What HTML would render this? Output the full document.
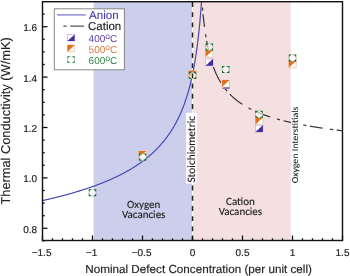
<!DOCTYPE html>
<html><head><meta charset="utf-8"><style>
html,body{margin:0;padding:0;background:#fff;}
svg{display:block;filter:blur(0.3px);}
text{font-family:"Liberation Sans",Arial,sans-serif;text-rendering:geometricPrecision;}
.cal{font-family:Carlito,"Liberation Sans",sans-serif;stroke:#1a1a1a;stroke-width:0.1px;}
</style></head><body>
<svg width="350" height="276" viewBox="0 0 350 276">
<rect x="93.6" y="1.7" width="98.4" height="238.8" fill="#cccfeb"/>
<rect x="193" y="1.7" width="97.8" height="238.8" fill="#f5e0e1"/>
<path d="M42.50,200.59 L42.91,200.50 L43.31,200.41 L43.72,200.32 L44.12,200.23 L44.53,200.13 L44.94,200.04 L45.34,199.95 L45.75,199.86 L46.15,199.77 L46.56,199.67 L46.97,199.58 L47.37,199.48 L47.78,199.39 L48.18,199.30 L48.59,199.20 L49.00,199.11 L49.40,199.01 L49.81,198.92 L50.21,198.82 L50.62,198.72 L51.03,198.63 L51.43,198.53 L51.84,198.43 L52.24,198.34 L52.65,198.24 L53.06,198.14 L53.46,198.04 L53.87,197.94 L54.27,197.84 L54.68,197.74 L55.09,197.64 L55.49,197.54 L55.90,197.44 L56.30,197.34 L56.71,197.24 L57.12,197.14 L57.52,197.04 L57.93,196.93 L58.33,196.83 L58.74,196.73 L59.15,196.62 L59.55,196.52 L59.96,196.42 L60.36,196.31 L60.77,196.21 L61.18,196.10 L61.58,196.00 L61.99,195.89 L62.39,195.78 L62.80,195.68 L63.21,195.57 L63.61,195.46 L64.02,195.35 L64.42,195.25 L64.83,195.14 L65.24,195.03 L65.64,194.92 L66.05,194.81 L66.45,194.70 L66.86,194.59 L67.27,194.48 L67.67,194.36 L68.08,194.25 L68.48,194.14 L68.89,194.03 L69.30,193.91 L69.70,193.80 L70.11,193.68 L70.52,193.57 L70.92,193.46 L71.33,193.34 L71.73,193.22 L72.14,193.11 L72.55,192.99 L72.95,192.87 L73.36,192.76 L73.76,192.64 L74.17,192.52 L74.58,192.40 L74.98,192.28 L75.39,192.16 L75.79,192.04 L76.20,191.92 L76.61,191.80 L77.01,191.67 L77.42,191.55 L77.82,191.43 L78.23,191.30 L78.64,191.18 L79.04,191.06 L79.45,190.93 L79.85,190.81 L80.26,190.68 L80.67,190.55 L81.07,190.43 L81.48,190.30 L81.88,190.17 L82.29,190.04 L82.70,189.91 L83.10,189.78 L83.51,189.65 L83.91,189.52 L84.32,189.39 L84.73,189.26 L85.13,189.12 L85.54,188.99 L85.94,188.86 L86.35,188.72 L86.76,188.59 L87.16,188.45 L87.57,188.32 L87.97,188.18 L88.38,188.04 L88.79,187.91 L89.19,187.77 L89.60,187.63 L90.00,187.49 L90.41,187.35 L90.82,187.21 L91.22,187.07 L91.63,186.92 L92.03,186.78 L92.44,186.64 L92.85,186.49 L93.25,186.35 L93.66,186.20 L94.06,186.06 L94.47,185.91 L94.88,185.76 L95.28,185.61 L95.69,185.46 L96.09,185.32 L96.50,185.16 L96.91,185.01 L97.31,184.86 L97.72,184.71 L98.12,184.56 L98.53,184.40 L98.94,184.25 L99.34,184.09 L99.75,183.94 L100.15,183.78 L100.56,183.62 L100.97,183.46 L101.37,183.30 L101.78,183.14 L102.18,182.98 L102.59,182.82 L103.00,182.66 L103.40,182.50 L103.81,182.33 L104.21,182.17 L104.62,182.00 L105.03,181.83 L105.43,181.67 L105.84,181.50 L106.24,181.33 L106.65,181.16 L107.06,180.99 L107.46,180.82 L107.87,180.64 L108.27,180.47 L108.68,180.30 L109.09,180.12 L109.49,179.94 L109.90,179.77 L110.30,179.59 L110.71,179.41 L111.12,179.23 L111.52,179.05 L111.93,178.87 L112.33,178.68 L112.74,178.50 L113.15,178.31 L113.55,178.13 L113.96,177.94 L114.36,177.75 L114.77,177.56 L115.18,177.37 L115.58,177.18 L115.99,176.99 L116.39,176.79 L116.80,176.60 L117.21,176.40 L117.61,176.21 L118.02,176.01 L118.42,175.81 L118.83,175.61 L119.24,175.41 L119.64,175.20 L120.05,175.00 L120.45,174.79 L120.86,174.59 L121.27,174.38 L121.67,174.17 L122.08,173.96 L122.48,173.75 L122.89,173.53 L123.30,173.32 L123.70,173.10 L124.11,172.89 L124.52,172.67 L124.92,172.45 L125.33,172.23 L125.73,172.00 L126.14,171.78 L126.55,171.55 L126.95,171.33 L127.36,171.10 L127.76,170.87 L128.17,170.64 L128.58,170.40 L128.98,170.17 L129.39,169.93 L129.79,169.70 L130.20,169.46 L130.61,169.22 L131.01,168.97 L131.42,168.73 L131.82,168.48 L132.23,168.24 L132.64,167.99 L133.04,167.74 L133.45,167.48 L133.85,167.23 L134.26,166.97 L134.67,166.71 L135.07,166.45 L135.48,166.19 L135.88,165.93 L136.29,165.66 L136.70,165.39 L137.10,165.12 L137.51,164.85 L137.91,164.58 L138.32,164.30 L138.73,164.03 L139.13,163.75 L139.54,163.46 L139.94,163.18 L140.35,162.89 L140.76,162.60 L141.16,162.31 L141.57,162.02 L141.97,161.72 L142.38,161.43 L142.79,161.12 L143.19,160.82 L143.60,160.52 L144.00,160.21 L144.41,159.90 L144.82,159.59 L145.22,159.27 L145.63,158.95 L146.03,158.63 L146.44,158.31 L146.85,157.98 L147.25,157.65 L147.66,157.32 L148.06,156.98 L148.47,156.65 L148.88,156.30 L149.28,155.96 L149.69,155.61 L150.09,155.26 L150.50,154.91 L150.91,154.55 L151.31,154.19 L151.72,153.83 L152.12,153.46 L152.53,153.09 L152.94,152.72 L153.34,152.34 L153.75,151.96 L154.15,151.58 L154.56,151.19 L154.97,150.80 L155.37,150.40 L155.78,150.00 L156.18,149.59 L156.59,149.19 L157.00,148.77 L157.40,148.36 L157.81,147.94 L158.21,147.51 L158.62,147.08 L159.03,146.64 L159.43,146.21 L159.84,145.76 L160.24,145.31 L160.65,144.86 L161.06,144.40 L161.46,143.93 L161.87,143.47 L162.27,142.99 L162.68,142.51 L163.09,142.02 L163.49,141.53 L163.90,141.03 L164.30,140.53 L164.71,140.02 L165.12,139.51 L165.52,138.98 L165.93,138.45 L166.33,137.92 L166.74,137.38 L167.15,136.83 L167.55,136.27 L167.96,135.71 L168.36,135.14 L168.77,134.56 L169.18,133.97 L169.58,133.38 L169.99,132.78 L170.39,132.16 L170.80,131.54 L171.21,130.92 L171.61,130.28 L172.02,129.63 L172.42,128.98 L172.83,128.31 L173.24,127.63 L173.64,126.95 L174.05,126.25 L174.45,125.54 L174.86,124.82 L175.27,124.09 L175.67,123.35 L176.08,122.60 L176.48,121.83 L176.89,121.05 L177.30,120.26 L177.70,119.45 L178.11,118.63 L178.52,117.80 L178.92,116.95 L179.33,116.08 L179.73,115.20 L180.14,114.30 L180.55,113.38 L180.95,112.45 L181.36,111.50 L181.76,110.53 L182.17,109.54 L182.58,108.53 L182.98,107.50 L183.39,106.44 L183.79,105.37 L184.20,104.27 L184.61,103.14 L185.01,101.99 L185.42,100.82 L185.82,99.61 L186.23,98.38 L186.64,97.12 L187.04,95.82 L187.45,94.50 L187.85,93.13 L188.26,91.74 L188.67,90.30 L189.07,88.83 L189.48,87.31 L189.88,85.75 L190.29,84.15 L190.70,82.49 L191.10,80.79 L191.51,79.03 L191.91,77.21 L192.32,75.34 L192.73,73.40 L193.13,71.39 L193.54,69.31 L193.94,67.15 L194.35,64.92 L194.76,62.59 L195.16,60.17 L195.57,57.65 L195.97,55.02 L196.38,52.27 L196.79,49.40 L197.19,46.38 L197.60,43.22 L198.00,39.90 L198.41,36.39 L198.82,32.69 L199.22,28.78 L199.63,24.62 L200.03,20.19 L200.44,15.46 L200.85,10.39 L201.25,4.93 L201.47,1.70" fill="none" stroke="#4848b4" stroke-width="1.2"/>
<path d="M201.94,1.70 L202.11,3.85 L202.35,6.76 L202.59,9.51 L202.84,12.13 L203.08,14.61 L203.32,16.98 L203.57,19.24 L203.81,21.39 L204.06,23.46 L204.30,25.43 L204.54,27.33 L204.79,29.15 L205.03,30.89 L205.27,32.58 L205.52,34.20 L205.76,35.76 L206.01,37.26 L206.25,38.72 L206.49,40.12 L206.74,41.48 L206.98,42.80 L207.22,44.07 L207.47,45.31 L207.71,46.51 L207.96,47.67 L208.20,48.80 L208.44,49.89 L208.69,50.96 L208.93,52.00 L209.17,53.00 L209.42,53.99 L209.66,54.94 L209.91,55.87 L210.15,56.78 L210.39,57.67 L210.64,58.53 L210.88,59.38 L211.12,60.20 L211.37,61.01 L211.61,61.79 L211.86,62.56 L212.10,63.31 L212.34,64.05 L212.59,64.77 L212.83,65.47 L213.07,66.16 L213.32,66.84 L213.56,67.50 L213.81,68.15 L214.05,68.78 L214.29,69.41 L214.54,70.02 L214.78,70.62 L215.02,71.21 L215.27,71.78 L215.51,72.35 L215.76,72.91 L216.00,73.45 L216.24,73.99 L216.49,74.52 L216.73,75.04 L216.97,75.55 L217.22,76.05 L217.46,76.54 L217.71,77.03 L217.95,77.50 L218.19,77.97" fill="none" stroke="#333" stroke-width="1.2" stroke-dasharray="12.8 7.4 3.2 3.6" stroke-dashoffset="14.45"/><path d="M218.19,77.97 L218.44,78.43 L218.68,78.89 L218.92,79.33 L219.17,79.77 L219.41,80.21 L219.66,80.63 L219.90,81.05 L220.14,81.47 L220.39,81.88 L220.63,82.28 L220.87,82.68 L221.12,83.07 L221.36,83.45 L221.61,83.83 L221.85,84.21 L222.09,84.57 L222.34,84.94 L222.58,85.30 L222.82,85.65 L223.07,86.00 L223.31,86.35 L223.56,86.69 L223.80,87.03 L224.04,87.36 L224.29,87.69 L224.53,88.01 L224.77,88.33 L225.02,88.65 L225.26,88.96 L225.51,89.26 L225.75,89.57 L225.99,89.87 L226.24,90.17 L226.48,90.46 L226.72,90.75 L226.97,91.04 L227.21,91.32 L227.45,91.60 L227.70,91.88 L227.94,92.15 L228.19,92.42 L228.43,92.69 L228.67,92.96 L228.92,93.22 L229.16,93.48 L229.40,93.73 L229.65,93.99 L229.89,94.24 L230.14,94.49 L230.38,94.73 L230.62,94.98 L230.87,95.22 L231.11,95.46 L231.35,95.69 L231.60,95.92 L231.84,96.16 L232.09,96.38 L232.33,96.61 L232.57,96.84 L232.82,97.06 L233.06,97.28 L233.30,97.49 L233.55,97.71 L233.79,97.92 L234.04,98.14 L234.28,98.35 L234.52,98.55 L234.77,98.76 L235.01,98.96 L235.25,99.16 L235.50,99.36 L235.74,99.56 L235.99,99.76 L236.23,99.95 L236.47,100.15 L236.72,100.34 L236.96,100.53 L237.20,100.72 L237.45,100.90 L237.69,101.09 L237.94,101.27 L238.18,101.45 L238.42,101.63 L238.67,101.81 L238.91,101.99 L239.15,102.16 L239.40,102.34 L239.64,102.51 L239.89,102.68 L240.13,102.85 L240.37,103.02 L240.62,103.19 L240.86,103.35 L241.10,103.52 L241.35,103.68 L241.59,103.84 L241.84,104.00 L242.08,104.16 L242.32,104.32 L242.57,104.48 L242.81,104.63 L243.05,104.79 L243.30,104.94 L243.54,105.09 L243.79,105.24 L244.03,105.39 L244.27,105.54 L244.52,105.69 L244.76,105.84 L245.00,105.98 L245.25,106.13 L245.49,106.27 L245.74,106.41 L245.98,106.55 L246.22,106.69 L246.47,106.83 L246.71,106.97 L246.95,107.11 L247.20,107.24 L247.44,107.38 L247.69,107.51 L247.93,107.65 L248.17,107.78 L248.42,107.91 L248.66,108.04 L248.90,108.17 L249.15,108.30 L249.39,108.43 L249.64,108.56 L249.88,108.68 L250.12,108.81 L250.37,108.93 L250.61,109.06 L250.85,109.18 L251.10,109.30 L251.34,109.42 L251.59,109.54 L251.83,109.66 L252.07,109.78 L252.32,109.90 L252.56,110.02 L252.80,110.13 L253.05,110.25 L253.29,110.37 L253.54,110.48 L253.78,110.59 L254.02,110.71 L254.27,110.82 L254.51,110.93 L254.75,111.04 L255.00,111.15 L255.24,111.26 L255.48,111.37 L255.73,111.48 L255.97,111.59 L256.22,111.70 L256.46,111.80 L256.70,111.91 L256.95,112.01 L257.19,112.12 L257.43,112.22 L257.68,112.33 L257.92,112.43 L258.17,112.53 L258.41,112.63 L258.65,112.73 L258.90,112.83 L259.14,112.93 L259.38,113.03 L259.63,113.13 L259.87,113.23 L260.12,113.33 L260.36,113.42 L260.60,113.52 L260.85,113.62 L261.09,113.71 L261.33,113.81 L261.58,113.90 L261.82,114.00 L262.07,114.09 L262.31,114.18 L262.55,114.27 L262.80,114.37 L263.04,114.46 L263.28,114.55 L263.53,114.64 L263.77,114.73 L264.02,114.82 L264.26,114.91 L264.50,114.99 L264.75,115.08 L264.99,115.17 L265.23,115.26 L265.48,115.34 L265.72,115.43 L265.97,115.52 L266.21,115.60 L266.45,115.69 L266.70,115.77 L266.94,115.85 L267.18,115.94 L267.43,116.02 L267.67,116.10 L267.92,116.19 L268.16,116.27 L268.40,116.35 L268.65,116.43 L268.89,116.51 L269.13,116.59 L269.38,116.67 L269.62,116.75 L269.87,116.83 L270.11,116.91 L270.35,116.99 L270.60,117.07 L270.84,117.14 L271.08,117.22 L271.33,117.30 L271.57,117.37 L271.82,117.45 L272.06,117.53 L272.30,117.60 L272.55,117.68 L272.79,117.75 L273.03,117.82 L273.28,117.90 L273.52,117.97 L273.77,118.05 L274.01,118.12 L274.25,118.19 L274.50,118.26 L274.74,118.34 L274.98,118.41 L275.23,118.48" fill="none" stroke="#333" stroke-width="1.2" stroke-dasharray="16 7.2 3.2 4.2" stroke-dashoffset="10.48"/><path d="M275.23,118.48 L275.47,118.55 L275.72,118.62 L275.96,118.69 L276.20,118.76 L276.45,118.83 L276.69,118.90 L276.93,118.97 L277.18,119.04 L277.42,119.11 L277.67,119.17 L277.91,119.24 L278.15,119.31 L278.40,119.38 L278.64,119.44 L278.88,119.51 L279.13,119.58 L279.37,119.64 L279.62,119.71 L279.86,119.77 L280.10,119.84 L280.35,119.90 L280.59,119.97 L280.83,120.03 L281.08,120.10 L281.32,120.16 L281.57,120.23 L281.81,120.29 L282.05,120.35 L282.30,120.41 L282.54,120.48 L282.78,120.54 L283.03,120.60 L283.27,120.66 L283.52,120.72 L283.76,120.79 L284.00,120.85 L284.25,120.91 L284.49,120.97 L284.73,121.03 L284.98,121.09 L285.22,121.15 L285.46,121.21 L285.71,121.27 L285.95,121.33 L286.20,121.38 L286.44,121.44 L286.68,121.50 L286.93,121.56 L287.17,121.62 L287.41,121.68 L287.66,121.73 L287.90,121.79 L288.15,121.85 L288.39,121.90 L288.63,121.96 L288.88,122.02 L289.12,122.07 L289.36,122.13 L289.61,122.18 L289.85,122.24 L290.10,122.29 L290.34,122.35 L290.58,122.40 L290.83,122.46 L291.07,122.51 L291.31,122.57 L291.56,122.62 L291.80,122.68 L292.05,122.73 L292.29,122.78 L292.53,122.84 L292.78,122.89 L293.02,122.94 L293.26,122.99 L293.51,123.05 L293.75,123.10 L294.00,123.15 L294.24,123.20 L294.48,123.25 L294.73,123.30 L294.97,123.36 L295.21,123.41 L295.46,123.46 L295.70,123.51 L295.95,123.56 L296.19,123.61 L296.43,123.66 L296.68,123.71 L296.92,123.76 L297.16,123.81 L297.41,123.86 L297.65,123.91 L297.90,123.96 L298.14,124.01 L298.38,124.05 L298.63,124.10 L298.87,124.15 L299.11,124.20 L299.36,124.25 L299.60,124.30 L299.85,124.34 L300.09,124.39 L300.33,124.44 L300.58,124.49 L300.82,124.53 L301.06,124.58 L301.31,124.63 L301.55,124.67 L301.80,124.72 L302.04,124.76 L302.28,124.81 L302.53,124.86 L302.77,124.90 L303.01,124.95 L303.26,124.99 L303.50,125.04 L303.75,125.08 L303.99,125.13 L304.23,125.17 L304.48,125.22 L304.72,125.26 L304.96,125.31 L305.21,125.35 L305.45,125.40 L305.70,125.44 L305.94,125.48 L306.18,125.53 L306.43,125.57 L306.67,125.61 L306.91,125.66 L307.16,125.70 L307.40,125.74 L307.65,125.79 L307.89,125.83 L308.13,125.87 L308.38,125.91 L308.62,125.96 L308.86,126.00 L309.11,126.04 L309.35,126.08 L309.60,126.12 L309.84,126.17 L310.08,126.21 L310.33,126.25 L310.57,126.29 L310.81,126.33 L311.06,126.37 L311.30,126.41 L311.55,126.45 L311.79,126.49 L312.03,126.53 L312.28,126.58 L312.52,126.62 L312.76,126.66 L313.01,126.70 L313.25,126.74 L313.49,126.77 L313.74,126.81 L313.98,126.85 L314.23,126.89 L314.47,126.93 L314.71,126.97 L314.96,127.01 L315.20,127.05 L315.44,127.09 L315.69,127.13 L315.93,127.17 L316.18,127.20 L316.42,127.24 L316.66,127.28 L316.91,127.32 L317.15,127.36 L317.39,127.39 L317.64,127.43 L317.88,127.47 L318.13,127.51 L318.37,127.54 L318.61,127.58 L318.86,127.62 L319.10,127.66 L319.34,127.69 L319.59,127.73 L319.83,127.77 L320.08,127.80 L320.32,127.84 L320.56,127.88 L320.81,127.91 L321.05,127.95 L321.29,127.98 L321.54,128.02 L321.78,128.06 L322.03,128.09 L322.27,128.13 L322.51,128.16 L322.76,128.20 L323.00,128.23 L323.24,128.27 L323.49,128.30 L323.73,128.34 L323.98,128.37 L324.22,128.41 L324.46,128.44 L324.71,128.48 L324.95,128.51 L325.19,128.55 L325.44,128.58 L325.68,128.62 L325.93,128.65 L326.17,128.68 L326.41,128.72 L326.66,128.75 L326.90,128.79 L327.14,128.82 L327.39,128.85 L327.63,128.89 L327.88,128.92 L328.12,128.95 L328.36,128.99 L328.61,129.02 L328.85,129.05 L329.09,129.09 L329.34,129.12 L329.58,129.15 L329.83,129.18 L330.07,129.22 L330.31,129.25 L330.56,129.28 L330.80,129.31 L331.04,129.35 L331.29,129.38 L331.53,129.41 L331.78,129.44 L332.02,129.48 L332.26,129.51 L332.51,129.54 L332.75,129.57 L332.99,129.60 L333.24,129.63 L333.48,129.67 L333.73,129.70 L333.97,129.73 L334.21,129.76 L334.46,129.79 L334.70,129.82 L334.94,129.85 L335.19,129.88 L335.43,129.91 L335.68,129.94 L335.92,129.97 L336.16,130.01 L336.41,130.04 L336.65,130.07 L336.89,130.10 L337.14,130.13 L337.38,130.16 L337.63,130.19 L337.87,130.22 L338.11,130.25 L338.36,130.28 L338.60,130.31 L338.84,130.34 L339.09,130.37 L339.33,130.40 L339.58,130.42 L339.82,130.45 L340.06,130.48 L340.31,130.51 L340.55,130.54 L340.79,130.57 L341.04,130.60 L341.28,130.63 L341.53,130.66 L341.77,130.69 L342.01,130.72 L342.26,130.74 L342.50,130.77" fill="none" stroke="#333" stroke-width="1.2" stroke-dasharray="12.8 7.4 3.2 3.6" stroke-dashoffset="18.37"/>
<rect x="205.60" y="58.80" width="7.4" height="7.0" fill="#fff" stroke="#c2b6e2" stroke-width="0.8"/><polygon points="213.00,58.80 213.00,65.80 205.60,65.80" fill="#4b2a9c"/><rect x="222.10" y="81.50" width="7.4" height="7.0" fill="#fff" stroke="#c2b6e2" stroke-width="0.8"/><polygon points="229.50,81.50 229.50,88.50 222.10,88.50" fill="#4b2a9c"/><rect x="255.50" y="125.10" width="7.4" height="7.0" fill="#fff" stroke="#c2b6e2" stroke-width="0.8"/><polygon points="262.90,125.10 262.90,132.10 255.50,132.10" fill="#4b2a9c"/><rect x="138.90" y="150.90" width="7.4" height="7.0" fill="#fff" stroke="#f0c4a4" stroke-width="0.8"/><polygon points="138.90,150.90 146.30,150.90 138.90,157.90" fill="#e66f1e"/><rect x="188.80" y="70.80" width="7.4" height="7.0" fill="#fff" stroke="#f0c4a4" stroke-width="0.8"/><polygon points="188.80,70.80 196.20,70.80 188.80,77.80" fill="#e66f1e"/><rect x="205.60" y="50.00" width="7.4" height="7.0" fill="#fff" stroke="#f0c4a4" stroke-width="0.8"/><polygon points="205.60,50.00 213.00,50.00 205.60,57.00" fill="#e66f1e"/><rect x="222.10" y="80.10" width="7.4" height="7.0" fill="#fff" stroke="#f0c4a4" stroke-width="0.8"/><polygon points="222.10,80.10 229.50,80.10 222.10,87.10" fill="#e66f1e"/><rect x="255.50" y="117.50" width="7.4" height="7.0" fill="#fff" stroke="#f0c4a4" stroke-width="0.8"/><polygon points="255.50,117.50 262.90,117.50 255.50,124.50" fill="#e66f1e"/><rect x="288.80" y="60.80" width="7.4" height="7.0" fill="#fff" stroke="#f0c4a4" stroke-width="0.8"/><polygon points="288.80,60.80 296.20,60.80 288.80,67.80" fill="#e66f1e"/><path d="M88.75,189.15h7.50v7.10h-7.50zM89.35,192.70a3.15,2.98 0 1,0 6.30,0a3.15,2.98 0 1,0 -6.30,0z" fill="#16702c" fill-rule="evenodd"/><ellipse cx="92.50" cy="192.70" rx="3.15" ry="2.98" fill="#fff" fill-opacity="0.6"/><rect x="91.30" y="189.15" width="2.4" height="0.75" fill="#fff" fill-opacity="0.8"/><rect x="91.30" y="195.50" width="2.4" height="0.75" fill="#fff" fill-opacity="0.8"/><rect x="88.75" y="191.50" width="0.75" height="2.4" fill="#fff" fill-opacity="0.8"/><rect x="95.50" y="191.50" width="0.75" height="2.4" fill="#fff" fill-opacity="0.8"/><path d="M138.85,153.55h7.50v7.10h-7.50zM139.45,157.10a3.15,2.98 0 1,0 6.30,0a3.15,2.98 0 1,0 -6.30,0z" fill="#16702c" fill-rule="evenodd"/><ellipse cx="142.60" cy="157.10" rx="3.15" ry="2.98" fill="#fff" fill-opacity="0.6"/><rect x="141.40" y="153.55" width="2.4" height="0.75" fill="#fff" fill-opacity="0.8"/><rect x="141.40" y="159.90" width="2.4" height="0.75" fill="#fff" fill-opacity="0.8"/><rect x="138.85" y="155.90" width="0.75" height="2.4" fill="#fff" fill-opacity="0.8"/><rect x="145.60" y="155.90" width="0.75" height="2.4" fill="#fff" fill-opacity="0.8"/><path d="M188.75,71.85h7.50v7.10h-7.50zM189.35,75.40a3.15,2.98 0 1,0 6.30,0a3.15,2.98 0 1,0 -6.30,0z" fill="#16702c" fill-rule="evenodd"/><ellipse cx="192.50" cy="75.40" rx="3.15" ry="2.98" fill="#fff" fill-opacity="0.6"/><rect x="191.30" y="71.85" width="2.4" height="0.75" fill="#fff" fill-opacity="0.8"/><rect x="191.30" y="78.20" width="2.4" height="0.75" fill="#fff" fill-opacity="0.8"/><rect x="188.75" y="74.20" width="0.75" height="2.4" fill="#fff" fill-opacity="0.8"/><rect x="195.50" y="74.20" width="0.75" height="2.4" fill="#fff" fill-opacity="0.8"/><path d="M205.55,43.45h7.50v7.10h-7.50zM206.15,47.00a3.15,2.98 0 1,0 6.30,0a3.15,2.98 0 1,0 -6.30,0z" fill="#16702c" fill-rule="evenodd"/><ellipse cx="209.30" cy="47.00" rx="3.15" ry="2.98" fill="#fff" fill-opacity="0.6"/><rect x="208.10" y="43.45" width="2.4" height="0.75" fill="#fff" fill-opacity="0.8"/><rect x="208.10" y="49.80" width="2.4" height="0.75" fill="#fff" fill-opacity="0.8"/><rect x="205.55" y="45.80" width="0.75" height="2.4" fill="#fff" fill-opacity="0.8"/><rect x="212.30" y="45.80" width="0.75" height="2.4" fill="#fff" fill-opacity="0.8"/><path d="M221.95,65.95h7.50v7.10h-7.50zM222.55,69.50a3.15,2.98 0 1,0 6.30,0a3.15,2.98 0 1,0 -6.30,0z" fill="#16702c" fill-rule="evenodd"/><ellipse cx="225.70" cy="69.50" rx="3.15" ry="2.98" fill="#fff" fill-opacity="0.6"/><rect x="224.50" y="65.95" width="2.4" height="0.75" fill="#fff" fill-opacity="0.8"/><rect x="224.50" y="72.30" width="2.4" height="0.75" fill="#fff" fill-opacity="0.8"/><rect x="221.95" y="68.30" width="0.75" height="2.4" fill="#fff" fill-opacity="0.8"/><rect x="228.70" y="68.30" width="0.75" height="2.4" fill="#fff" fill-opacity="0.8"/><path d="M255.35,110.75h7.50v7.10h-7.50zM255.95,114.30a3.15,2.98 0 1,0 6.30,0a3.15,2.98 0 1,0 -6.30,0z" fill="#16702c" fill-rule="evenodd"/><ellipse cx="259.10" cy="114.30" rx="3.15" ry="2.98" fill="#fff" fill-opacity="0.6"/><rect x="257.90" y="110.75" width="2.4" height="0.75" fill="#fff" fill-opacity="0.8"/><rect x="257.90" y="117.10" width="2.4" height="0.75" fill="#fff" fill-opacity="0.8"/><rect x="255.35" y="113.10" width="0.75" height="2.4" fill="#fff" fill-opacity="0.8"/><rect x="262.10" y="113.10" width="0.75" height="2.4" fill="#fff" fill-opacity="0.8"/><path d="M288.75,54.45h7.50v7.10h-7.50zM289.35,58.00a3.15,2.98 0 1,0 6.30,0a3.15,2.98 0 1,0 -6.30,0z" fill="#16702c" fill-rule="evenodd"/><ellipse cx="292.50" cy="58.00" rx="3.15" ry="2.98" fill="#fff" fill-opacity="0.6"/><rect x="291.30" y="54.45" width="2.4" height="0.75" fill="#fff" fill-opacity="0.8"/><rect x="291.30" y="60.80" width="2.4" height="0.75" fill="#fff" fill-opacity="0.8"/><rect x="288.75" y="56.80" width="0.75" height="2.4" fill="#fff" fill-opacity="0.8"/><rect x="295.50" y="56.80" width="0.75" height="2.4" fill="#fff" fill-opacity="0.8"/>
<line x1="192.5" y1="1.7" x2="192.5" y2="240.5" stroke="#222" stroke-width="1.5" stroke-dasharray="4.9 5.3" stroke-dashoffset="9.9"/>
<rect x="186" y="112.8" width="10.8" height="70.7" fill="#fff"/>
<text class="cal" transform="translate(194.6,182.6) rotate(-90)" font-size="11.35" fill="#1a1a1a">Stoichiometric</text>
<rect x="291" y="106" width="9" height="78" fill="#fff"/>
<text class="cal" transform="translate(297.9,183.3) rotate(-90) scale(1,0.92)" font-size="9.88" fill="#1a1a1a" style="stroke-width:0.05px">Oxygen Interstitials</text>
<text class="cal" x="143.7" y="208.3" font-size="11" fill="#1a1a1a" text-anchor="middle">Oxygen</text>
<text class="cal" x="143.7" y="217.7" font-size="11" fill="#1a1a1a" text-anchor="middle">Vacancies</text>
<text class="cal" x="240.4" y="204.8" font-size="11" fill="#1a1a1a" text-anchor="middle">Cation</text>
<text class="cal" x="240.4" y="214.7" font-size="11" fill="#1a1a1a" text-anchor="middle">Vacancies</text>
<rect x="54.3" y="8.8" width="70.1" height="61" fill="#fff" stroke="#888" stroke-width="1"/>
<line x1="57.1" y1="14.9" x2="85.7" y2="14.9" stroke="#7b7bd0" stroke-width="1.3"/>
<line x1="63.4" y1="26.1" x2="66.6" y2="26.1" stroke="#3a3a3a" stroke-width="1.1"/>
<line x1="70.4" y1="26.1" x2="84" y2="26.1" stroke="#3a3a3a" stroke-width="1.1"/>
<g transform="translate(0,0)"><rect x="67.45" y="34.40" width="7.2" height="6.6" fill="#fff" stroke="#c2b6e2" stroke-width="0.8"/><polygon points="74.65,34.40 74.65,41.00 67.45,41.00" fill="#4b2a9c"/><rect x="67.45" y="45.10" width="7.2" height="6.6" fill="#fff" stroke="#f0c4a4" stroke-width="0.8"/><polygon points="67.45,45.10 74.65,45.10 67.45,51.70" fill="#e66f1e"/><path d="M67.40,56.15h7.30v6.70h-7.30zM67.98,59.50a3.07,2.81 0 1,0 6.13,0a3.07,2.81 0 1,0 -6.13,0z" fill="#16702c" fill-rule="evenodd"/><ellipse cx="71.05" cy="59.50" rx="3.07" ry="2.81" fill="#fff" fill-opacity="0.6"/><rect x="69.85" y="56.15" width="2.4" height="0.75" fill="#fff" fill-opacity="0.8"/><rect x="69.85" y="62.10" width="2.4" height="0.75" fill="#fff" fill-opacity="0.8"/><rect x="67.40" y="58.30" width="0.75" height="2.4" fill="#fff" fill-opacity="0.8"/><rect x="73.95" y="58.30" width="0.75" height="2.4" fill="#fff" fill-opacity="0.8"/></g>
<text x="89.1" y="19.4" font-size="11.6" fill="#4a3fb0" stroke="#4a3fb0" stroke-width="0.15">Anion</text>
<text x="88" y="30.2" font-size="11.5" fill="#222" stroke="#222" stroke-width="0.12">Cation</text>
<text x="88.6" y="42.2" font-size="10" fill="#5a3ca6">400<tspan font-size="8.6" dy="-3.0">o</tspan><tspan dy="3.0">C</tspan></text>
<text x="88.6" y="53.1" font-size="10" fill="#dc7838">500<tspan font-size="8.6" dy="-3.0">o</tspan><tspan dy="3.0">C</tspan></text>
<text x="88.6" y="64" font-size="10" fill="#2e8a42">600<tspan font-size="8.6" dy="-3.0">o</tspan><tspan dy="3.0">C</tspan></text>
<g stroke="#111" stroke-width="1.3"><line x1="42.50" y1="240.5" x2="42.50" y2="235.5"/><line x1="52.50" y1="240.5" x2="52.50" y2="238.3"/><line x1="62.50" y1="240.5" x2="62.50" y2="238.3"/><line x1="72.50" y1="240.5" x2="72.50" y2="238.3"/><line x1="82.50" y1="240.5" x2="82.50" y2="238.3"/><line x1="92.50" y1="240.5" x2="92.50" y2="235.5"/><line x1="102.50" y1="240.5" x2="102.50" y2="238.3"/><line x1="112.50" y1="240.5" x2="112.50" y2="238.3"/><line x1="122.50" y1="240.5" x2="122.50" y2="238.3"/><line x1="132.50" y1="240.5" x2="132.50" y2="238.3"/><line x1="142.50" y1="240.5" x2="142.50" y2="235.5"/><line x1="152.50" y1="240.5" x2="152.50" y2="238.3"/><line x1="162.50" y1="240.5" x2="162.50" y2="238.3"/><line x1="172.50" y1="240.5" x2="172.50" y2="238.3"/><line x1="182.50" y1="240.5" x2="182.50" y2="238.3"/><line x1="192.50" y1="240.5" x2="192.50" y2="235.5"/><line x1="202.50" y1="240.5" x2="202.50" y2="238.3"/><line x1="212.50" y1="240.5" x2="212.50" y2="238.3"/><line x1="222.50" y1="240.5" x2="222.50" y2="238.3"/><line x1="232.50" y1="240.5" x2="232.50" y2="238.3"/><line x1="242.50" y1="240.5" x2="242.50" y2="235.5"/><line x1="252.50" y1="240.5" x2="252.50" y2="238.3"/><line x1="262.50" y1="240.5" x2="262.50" y2="238.3"/><line x1="272.50" y1="240.5" x2="272.50" y2="238.3"/><line x1="282.50" y1="240.5" x2="282.50" y2="238.3"/><line x1="292.50" y1="240.5" x2="292.50" y2="235.5"/><line x1="302.50" y1="240.5" x2="302.50" y2="238.3"/><line x1="312.50" y1="240.5" x2="312.50" y2="238.3"/><line x1="322.50" y1="240.5" x2="322.50" y2="238.3"/><line x1="332.50" y1="240.5" x2="332.50" y2="238.3"/><line x1="342.50" y1="240.5" x2="342.50" y2="235.5"/><line x1="42.5" y1="240.90" x2="44.7" y2="240.90"/><line x1="42.5" y1="228.30" x2="47.5" y2="228.30"/><line x1="42.5" y1="215.70" x2="44.7" y2="215.70"/><line x1="42.5" y1="203.10" x2="44.7" y2="203.10"/><line x1="42.5" y1="190.50" x2="44.7" y2="190.50"/><line x1="42.5" y1="177.90" x2="47.5" y2="177.90"/><line x1="42.5" y1="165.30" x2="44.7" y2="165.30"/><line x1="42.5" y1="152.70" x2="44.7" y2="152.70"/><line x1="42.5" y1="140.10" x2="44.7" y2="140.10"/><line x1="42.5" y1="127.50" x2="47.5" y2="127.50"/><line x1="42.5" y1="114.90" x2="44.7" y2="114.90"/><line x1="42.5" y1="102.30" x2="44.7" y2="102.30"/><line x1="42.5" y1="89.70" x2="44.7" y2="89.70"/><line x1="42.5" y1="77.10" x2="47.5" y2="77.10"/><line x1="42.5" y1="64.50" x2="44.7" y2="64.50"/><line x1="42.5" y1="51.90" x2="44.7" y2="51.90"/><line x1="42.5" y1="39.30" x2="44.7" y2="39.30"/><line x1="42.5" y1="26.70" x2="47.5" y2="26.70"/><line x1="42.5" y1="14.10" x2="44.7" y2="14.10"/></g>
<rect x="42.5" y="1.7" width="300.0" height="238.8" fill="none" stroke="#111" stroke-width="1.4"/>
<g font-size="10" fill="#222" stroke="#222" stroke-width="0.18"><text x="41.60" y="256.4" text-anchor="middle">−1.5</text><text x="91.60" y="256.4" text-anchor="middle">−1</text><text x="141.60" y="256.4" text-anchor="middle">−0.5</text><text x="192.50" y="256.4" text-anchor="middle">0</text><text x="242.50" y="256.4" text-anchor="middle">0.5</text><text x="292.50" y="256.4" text-anchor="middle">1</text><text x="342.50" y="256.4" text-anchor="middle">1.5</text><text x="37.2" y="232.70" text-anchor="end">0.8</text><text x="37.2" y="182.30" text-anchor="end">1.0</text><text x="37.2" y="131.90" text-anchor="end">1.2</text><text x="37.2" y="81.50" text-anchor="end">1.4</text><text x="37.2" y="31.10" text-anchor="end">1.6</text></g>
<text x="198.6" y="272.6" font-size="11.7" fill="#222" stroke="#222" stroke-width="0.15" text-anchor="middle">Nominal Defect Concentration (per unit cell)</text>
<text transform="translate(9.9,120.9) rotate(-90)" font-size="12.82" fill="#222" stroke="#222" stroke-width="0.12" text-anchor="middle">Thermal Conductivity (W/mK)</text>
</svg>
</body></html>
